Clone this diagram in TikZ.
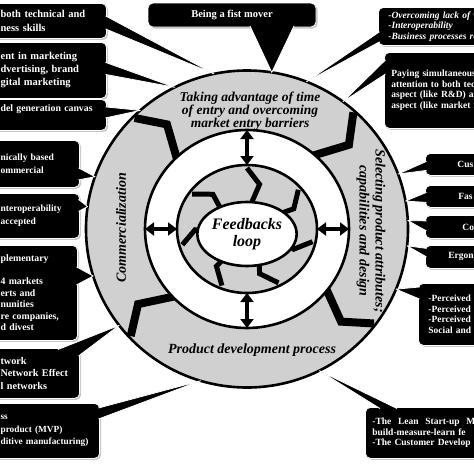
\documentclass[tikz,border=0pt]{standalone}
\usepackage{fontspec}
\setmainfont{Liberation Serif}
\usetikzlibrary{arrows.meta, calc, shadows, shapes.geometric}

\definecolor{ringgray}{RGB}{208,208,208}

\newcommand{\leftfont}{\fontsize{9.5}{12.5}\selectfont\bfseries}
\newcommand{\rightfont}{\fontsize{9.5}{10.5}\selectfont\bfseries}
\newcommand{\ringfont}{\fontsize{13.5}{13}\selectfont\bfseries\itshape}

\tikzset{
    bubble/.style={rectangle, fill=black, draw=white, line width=0.8pt, rounded corners=5pt, text=white, align=left, inner ysep=0pt, drop shadow={opacity=0.45, shadow xshift=1.5pt, shadow yshift=-1.5pt}},
    leftbubble/.style={bubble, anchor=north east, inner xsep=9pt, font=\leftfont},
    rightbubble/.style={bubble, anchor=north west, font=\rightfont},
    bubbletail/.style={fill=black, draw=white, line width=0.8pt, line join=round},
    ring/.style={ellipse, draw=black, fill=ringgray, line width=2.6pt, inner sep=0pt, outer sep=0pt},
    hole/.style={ring, fill=white},
    ringlabel/.style={align=center, font=\ringfont, inner sep=0pt},
    ribbon/.style={draw=black, line width=8pt, line join=miter},
    gearzig/.style={draw=black, line width=5pt, line join=miter},
    cyclearrow/.style={{Triangle[width=13pt, length=9pt]}-{Triangle[width=13pt, length=9pt]}, line width=3.5pt, black}
}

\begin{document}
\begin{tikzpicture}[x=1pt, y=-1pt]
\useasboundingbox (0,0) rectangle (474,474);
\fill[white] (0,0) rectangle (474,474);
\clip (0,0) rectangle (474,474);

\coordinate (c) at (247,229);

% rings
\node[ring, minimum width=322pt, minimum height=317pt] (outer) at (c) {};
\begin{scope}[shift={(c)}]
\foreach \a in {37,137,225,312}
    \draw[ribbon] (\a-1:96) -- (\a+8:133 and 131) -- (\a:159 and 157);
\end{scope}
\node[hole, minimum width=204pt, minimum height=198pt] (mid) at (c) {};
\node[ring, minimum width=140pt, minimum height=128pt] (gear) at (c) {};
\begin{scope}[shift={(c)}]
\foreach \a in {12,62,112,165,215,270,320}
    \draw[gearzig] (\a:67 and 61) -- (\a+14:52 and 46) -- (\a+5:30 and 22);
\end{scope}
\node[hole, minimum width=82pt, minimum height=64pt, align=center, font=\fontsize{16}{17}\selectfont\bfseries\itshape] (loop) at (247,234) {Feedbacks\\loop};

\draw[cyclearrow] (gear.north) -- (mid.north);
\draw[cyclearrow] (gear.south) -- (mid.south);
\draw[cyclearrow] (gear.west) -- (mid.west);
\draw[cyclearrow] (gear.east) -- (mid.east);

\node[ringlabel] (entry) at (250,111) {Taking advantage of time\\of entry and overcoming\\market entry barriers};
\node[ringlabel, rotate=-90, font=\fontsize{14}{16}\selectfont\bfseries\itshape] (select) at (371,231) {Selecting product attributes;\\capabilities and design};
\node[ringlabel, rotate=90, font=\fontsize{14}{16}\selectfont\bfseries\itshape] (comm) at (121,228) {Commercialization};
\node[ringlabel, font=\fontsize{14}{16}\selectfont\bfseries\itshape] (proddev) at (252,350) {Product development process};

% left bubbles
\node[leftbubble, text width=97pt, minimum height=35pt, font=\fontsize{10.5}{14}\selectfont\bfseries] (skills) at (107,3) {both technical and\\ness skills};
\node[leftbubble, text width=97pt, minimum height=56pt, font=\fontsize{10.5}{13}\selectfont\bfseries] (marketing) at (107,42) {ent in marketing\\dvertising, brand\\gital marketing};
\node[leftbubble, text width=97pt, minimum height=31pt, text height=10pt, text depth=17pt, font=\fontsize{9.8}{12}\selectfont\bfseries] (canvas) at (107,99) {del generation canvas};
\node[leftbubble, text width=70pt, minimum height=47pt] (commercial) at (80,140) {nically based\\ommercial};
\node[leftbubble, text width=70pt, minimum height=45pt] (interop) at (80,193) {nteroperability\\accepted};
\node[leftbubble, text width=68pt, minimum height=95pt, font=\fontsize{9.8}{11.5}\selectfont\bfseries] (complement) at (78,245) {plementary\\[11.5pt]4 markets\\erts and\\nunities\\re companies,\\d divest};
\node[leftbubble, text width=70pt, minimum height=50pt, font=\fontsize{10.2}{12.5}\selectfont\bfseries] (network) at (80,348) {twork\\Network Effect\\l networks};
\node[leftbubble, text width=90pt, minimum height=55pt, font=\fontsize{9.3}{12.5}\selectfont\bfseries] (mvp) at (100,403) {ss\\product (MVP)\\ditive manufacturing)};

% top and right bubbles
\node[bubble, align=center, minimum width=168pt, minimum height=24pt, font=\fontsize{10.5}{12}\selectfont\bfseries] (mover) at (232,15) {Being a fist mover};
\node[rightbubble, font=\rightfont\itshape, inner xsep=10pt, text width=100pt, minimum height=38pt] (lack) at (378,7) {-Overcoming lack of v\\-Interoperability\\-Business processes re};
\node[rightbubble, inner xsep=7pt, text width=100pt, minimum height=76pt] (paying) at (384,52) {Paying simultaneous\\attention to both tech\\aspect (like R\&D) an\\aspect (like market r};
\node[rightbubble, font=\leftfont, inner xsep=32pt, text width=40pt, minimum height=22pt] (custom) at (425,153) {Cus};
\node[rightbubble, font=\leftfont, inner xsep=33pt, text width=40pt, minimum height=22pt] (fast) at (425,185) {Fas};
\node[rightbubble, font=\leftfont, inner xsep=37pt, text width=40pt, minimum height=23pt] (cost) at (425,215) {Co};
\node[rightbubble, font=\leftfont, inner xsep=23pt, text width=40pt, minimum height=23pt] (ergo) at (425,245) {Ergon};
\node[rightbubble, inner xsep=10pt, text width=80pt, minimum height=62pt] (perceived) at (418,283) {-Perceived\\-Perceived\\-Perceived\\Social and};
\node[rightbubble, inner xsep=7pt, text width=110pt, minimum height=51pt] (lean) at (365,407) {\makebox[103pt][l]{-The\hfill Lean\hfill Start-up\hfill M}\\build-measure-learn fe\\-The Customer Develop};

% tails
\path[bubbletail] ($(skills.east)+(-1.5,-5)$) -- (outer.102) -- ($(skills.east)+(-1.5,8)$);
\path[bubbletail] ($(marketing.east)+(-1.5,-8)$) -- (outer.117) -- ($(marketing.east)+(-1.5,4)$);
\path[bubbletail] ($(canvas.east)+(-1.5,-8)$) -- (outer.132) -- ($(canvas.east)+(-1.5,3)$);
\path[bubbletail] ($(commercial.east)+(-1.5,4)$) -- (outer.161) -- ($(commercial.east)+(-1.5,16)$);
\path[bubbletail] ($(interop.east)+(-1.5,-16.5)$) -- (outer.172) -- ($(interop.east)+(-1.5,-4.5)$);
\path[bubbletail] ($(complement.east)+(-1.5,-26)$) -- (outer.197) -- ($(complement.east)+(-1.5,-8)$);
\path[bubbletail] ($(network.north east)+(-22,1.5)$) -- (outer.217) -- ($(network.north east)+(-1.5,8)$);
\path[bubbletail] ($(mvp.north east)+(-1.5,5)$) -- (outer.253) -- ($(mvp.north east)+(-1.5,16)$);
\path[bubbletail] ($(mover.south)+(18,-1.5)$) -- (outer.81) -- ($(mover.south)+(62,-1.5)$);
\path[bubbletail] ($(lack.south west)+(1.5,-14)$) -- (outer.68) -- ($(lack.south west)+(1.5,-4)$);
\path[bubbletail] ($(paying.north west)+(1.5,8)$) -- (outer.53) -- ($(paying.north west)+(1.5,22)$);
\path[bubbletail] ($(custom.west)+(1.5,-3)$) -- (outer.20) -- ($(custom.west)+(1.5,6)$);
\path[bubbletail] ($(fast.west)+(1.5,-4)$) -- (outer.10) -- ($(fast.west)+(1.5,6)$);
\path[bubbletail] ($(cost.west)+(1.5,-6)$) -- (outer.3) -- ($(cost.west)+(1.5,4)$);
\path[bubbletail] ($(ergo.west)+(1.5,-8.5)$) -- (outer.-6) -- ($(ergo.west)+(1.5,0)$);
\path[bubbletail] ($(perceived.north west)+(1.5,4)$) -- (outer.-22) -- ($(perceived.north west)+(1.5,16)$);
\path[bubbletail] ($(lean.north west)+(15,1.5)$) -- (outer.-63) -- ($(lean.north west)+(32,1.5)$);

\end{tikzpicture}
\end{document}
